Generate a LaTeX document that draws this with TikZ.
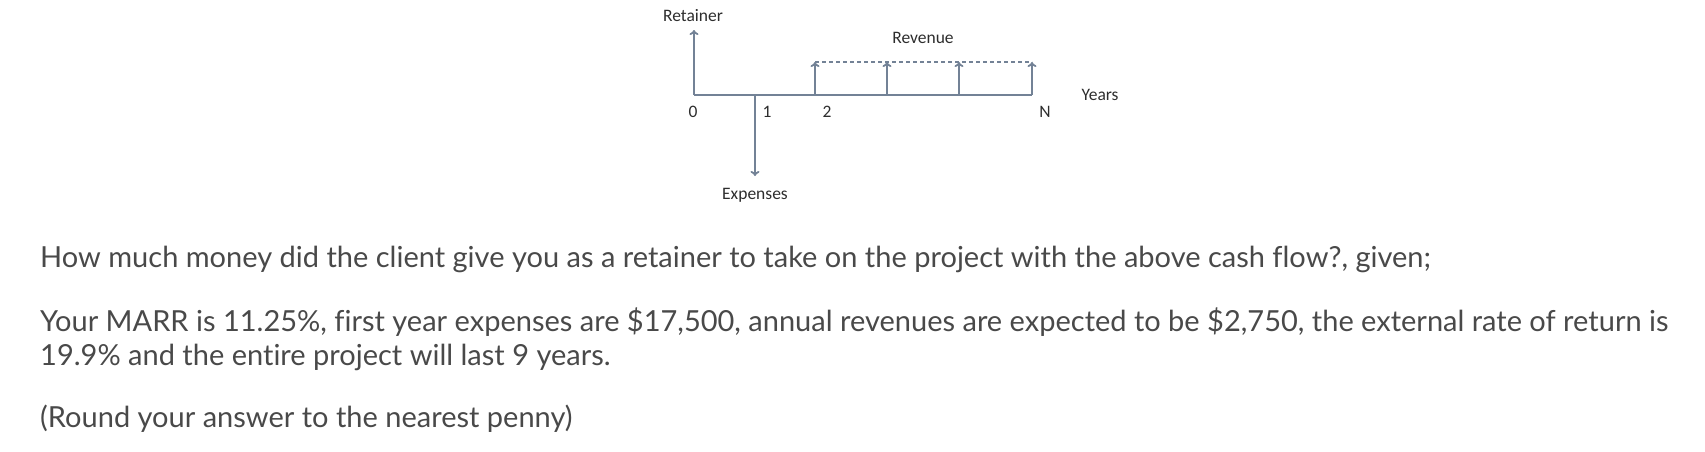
\documentclass[tikz,border=0pt]{standalone}
\usepackage{fontspec}
\setmainfont{Lato}[Ligatures=NoCommon]
\newfontfamily\calibri{Carlito}
\usetikzlibrary{arrows.meta}

\definecolor{flowline}{RGB}{115,130,150}
\definecolor{labeltext}{RGB}{45,45,45}
\definecolor{bodytext}{RGB}{73,73,73}

\tikzset{
  flow/.style={draw=flowline, line width=1.8pt},
  cash/.style={flow, -{To[length=5pt,width=9pt]}},
  lbl/.style={text=labeltext, font=\calibri\fontsize{17.5}{20}\selectfont, inner sep=0pt, anchor=base},
  para/.style={text=bodytext, font=\fontsize{29}{34}\selectfont, inner sep=0pt, anchor=base west},
}

\begin{document}
\begin{tikzpicture}[x=1pt,y=-1pt]
\useasboundingbox (0,0) rectangle (1705,451);

                 \coordinate (y0) at (694,95);
                 \coordinate (y1) at (755,95);
                 \coordinate (y2) at (815,95);
                 \coordinate (y3) at (887,95);
                 \coordinate (y4) at (959,95);
                 \coordinate (yN) at (1032,95);
                 \coordinate (ret) at (694,30);
                 \coordinate (exp) at (755,176);
                 \coordinate (r2) at (815,62);
                 \coordinate (r3) at (887,62);
                 \coordinate (r4) at (959,62);
                 \coordinate (rN) at (1032,62);
%
\draw[flow] (y0)--(yN);
\draw[cash] (y0)--(ret);
\draw[cash] (y1)--(exp);
\draw[cash] (y2)--(r2);
\draw[cash] (y3)--(r3);
\draw[cash] (y4)--(r4);
\draw[cash] (yN)--(rN);
\draw[flow, line width=1.3pt, dash pattern=on 4pt off 3pt] (r2)--(rN);
%
              \node[lbl] at (693,21) (retainer) {Retainer};
              \node[lbl] at (923,43) (revenue) {Revenue};
              \node[lbl] at (1100,100) (years) {Years};
              \node[lbl] at (755,199) (expenses) {Expenses};
              \node[lbl] at (693,117) (n0) {0};
              \node[lbl] at (767,117) (n1) {1};
              \node[lbl] at (827,117) (n2) {2};
              \node[lbl] at (1045,117) (nN) {N};
%
 \node[para] at (40,267) (q1) {How much money did the client give you as a retainer to take on the project with the above cash flow?, given;};
 \node[para] at (40,331) (q2a) {Your MARR is 11.25\%, first year expenses are \$17,500, annual revenues are expected to be \$2,750, the external rate of return is};
 \node[para] at (40,365) (q2b) {19.9\% and the entire project will last 9 years.};
 \node[para] at (40,427) (q3) {(Round your answer to the nearest penny)};
%
\end{tikzpicture}
\end{document}
